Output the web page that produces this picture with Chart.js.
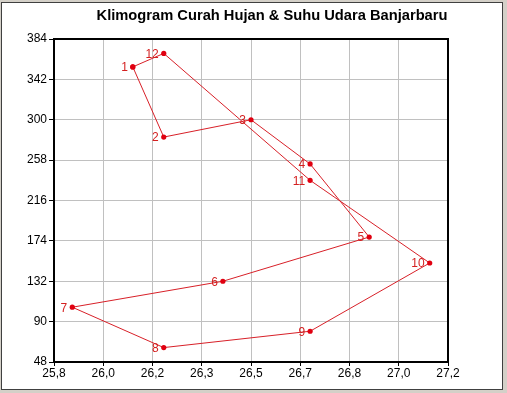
<!DOCTYPE html>
<html>
<head>
<meta charset="utf-8">
<script src="https://cdn.jsdelivr.net/npm/chart.js@4/dist/chart.umd.min.js"></script>
<style>
  html, body { margin: 0; padding: 0; background: #d4d0c8; }
  #wrap { width: 507px; height: 393px; position: relative; }
</style>
</head>
<body>
<div id="wrap"><canvas id="klimo" width="507" height="393"></canvas></div>
<script>
// data bulanan (suhu rata-rata, curah hujan)
bulan = ['1', '2', '3', '4', '5', '6', '7', '8', '9', '10', '11', '12']
suhu = [26.08, 26.19, 26.50, 26.71, 26.92, 26.40, 25.865, 26.19, 26.71, 27.135, 26.71, 26.19]
hujan = [355, 282, 300, 254, 178, 132, 105, 63, 80, 151, 237, 369]

xTicks = [25.8, 25.975, 26.15, 26.325, 26.5, 26.675, 26.85, 27.025, 27.2]
xTickLabels = ['25,8', '26,0', '26,2', '26,3', '26,5', '26,7', '26,8', '27,0', '27,2']
yTicks = [48, 90, 132, 174, 216, 258, 300, 342, 384]

judul = 'Klimogram Curah Hujan & Suhu Udara Banjarbaru'

// titik-titik, ditutup kembali ke bulan 1
titik = []
for (let i = 0; i < bulan.length; i++) {
    titik.push({ x: suhu[i], y: hujan[i], lbl: bulan[i] })
}
titik.push({ x: suhu[0], y: hujan[0], lbl: '' })

const bingkai = {
    id: 'bingkai',
    beforeDraw(chart) {
        const c = chart.ctx
        c.save()
        c.fillStyle = '#d4d0c8'
        c.fillRect(0, 0, chart.width, chart.height)
        c.fillStyle = '#ffffff'
        c.fillRect(2, 3, 500, 386)
        c.strokeStyle = '#404040'
        c.lineWidth = 1
        c.strokeRect(1.5, 2.5, 501, 387)
        c.restore()
    },
    afterDraw(chart) {
        const c = chart.ctx
        const a = chart.chartArea
        c.save()
        // kotak plot
        c.strokeStyle = '#000'
        c.lineWidth = 2
        c.strokeRect(a.left, a.top, a.right - a.left, a.bottom - a.top)
        // judul
        c.fillStyle = '#000'
        c.font = 'bold 14.7px "Liberation Sans", Arial, sans-serif'
        c.textAlign = 'center'
        c.textBaseline = 'middle'
        c.fillText(judul, 272, 16)
        // label bulan
        const meta = chart.getDatasetMeta(0)
        c.fillStyle = '#d42020'
        c.font = '12px "Liberation Sans", Arial, sans-serif'
        c.textAlign = 'right'
        meta.data.forEach((p, i) => {
            const t = titik[i].lbl
            if (t) c.fillText(t, p.x - 5, p.y + 1)
        })
        c.restore()
    }
}

new Chart(document.getElementById('klimo'), {
    type: 'scatter',
    data: {
        datasets: [{
            data: titik,
            showLine: true,
            borderColor: '#d82028',
            borderWidth: 1,
            pointRadius: 2.6,
            pointBackgroundColor: '#e00010',
            pointBorderWidth: 0,
            tension: 0
        }]
    },
    options: {
        responsive: false,
        animation: false,
        layout: { padding: { top: 39, left: 0, right: 59, bottom: 0 } },
        plugins: { legend: { display: false }, tooltip: { enabled: false } },
        scales: {
            x: {
                type: 'linear',
                min: 25.8,
                max: 27.2,
                afterBuildTicks: (s) => { s.ticks = xTicks.map(v => ({ value: v })) },
                afterFit: (s) => { s.height = 31 },
                ticks: {
                    autoSkip: false,
                    maxRotation: 0,
                    padding: 0,
                    color: '#000',
                    font: { family: '"Liberation Sans", Arial, sans-serif', size: 12 },
                    callback: (v, i) => xTickLabels[i]
                },
                grid: { color: '#c0c0c0', tickColor: '#000', tickLength: 4 },
                border: { color: '#000', width: 2 }
            },
            y: {
                type: 'linear',
                min: 48,
                max: 384,
                afterBuildTicks: (s) => { s.ticks = yTicks.map(v => ({ value: v })) },
                afterFit: (s) => { s.width = 54 },
                ticks: {
                    autoSkip: false,
                    padding: 2,
                    color: '#000',
                    font: { family: '"Liberation Sans", Arial, sans-serif', size: 12 }
                },
                grid: { color: '#c0c0c0', tickColor: '#000', tickLength: 5 },
                border: { color: '#000', width: 2 }
            }
        }
    },
    plugins: [bingkai]
})
</script>
</body>
</html>
